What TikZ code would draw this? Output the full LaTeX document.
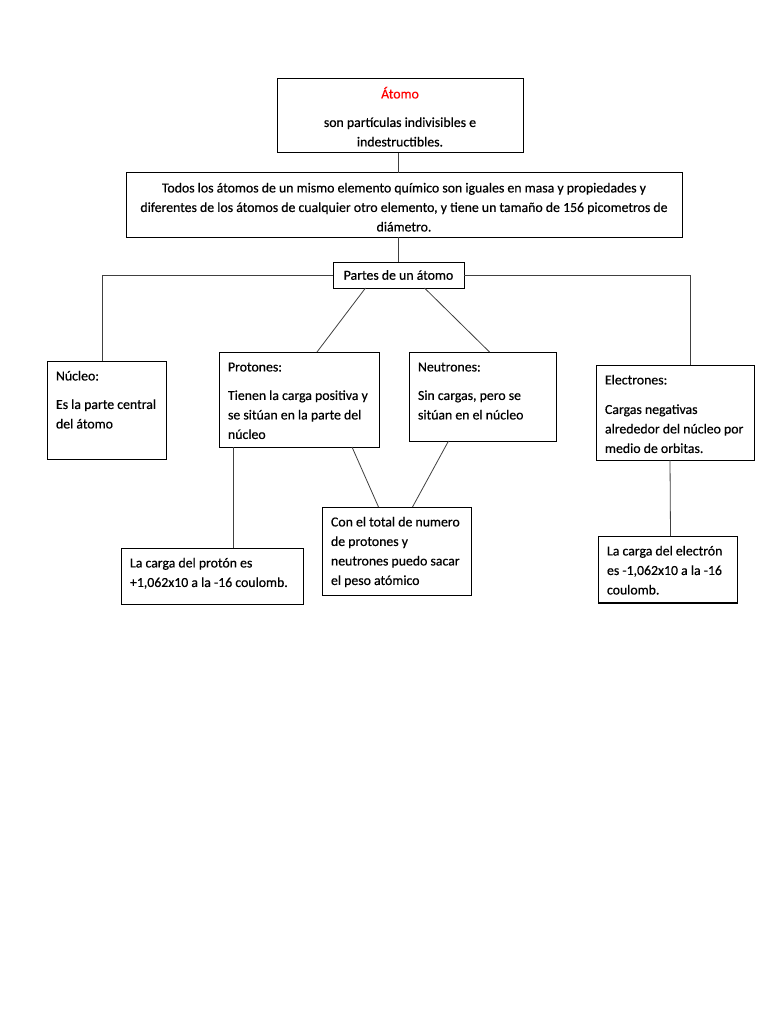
\documentclass[tikz,border=0pt]{standalone}
\usepackage{fontspec}
\setmainfont{Carlito}[FakeBold=0.5]
\usetikzlibrary{positioning}
\tikzstyle{every node}=[font=\fontsize{13.8}{19.5}\selectfont]
\tikzset{CajaStyle/.style = {
			      shape          = rectangle,
			      draw           = black,
			      line width     = 1pt,
			      anchor         = north west,
			      inner sep      = 0pt,
			      outer sep      = 0pt},
			LineaStyle/.style = {
			      draw           = black!75,
			      line width     = 0.8pt}
			}
% caja con texto arriba: ancho, alto, texto
\newcommand{\Caja}[3]{\begin{minipage}[t][#2pt][t]{#1pt}\vspace*{5.8pt}\raggedright\leftskip=9pt\relax\strut#3\end{minipage}}
\newcommand{\CajaC}[3]{\begin{minipage}[t][#2pt][t]{#1pt}\vspace*{5.8pt}\centering\strut#3\end{minipage}}

\begin{document}
\begin{tikzpicture}[x=1pt,y=-1pt]
							\useasboundingbox[fill=white] (0,0) rectangle (768,1024);

							\draw (277,79) node[CajaStyle] (atomo) {\CajaC{246}{74}{\textcolor{red}{Átomo}\\[9pt] son partículas indivisibles e\\ indestructibles.}};
							\draw (126,173) node[CajaStyle] (todos) {\CajaC{556}{64}{Todos los átomos de un mismo elemento químico son iguales en masa y propiedades y\\ diferentes de los átomos de cualquier otro elemento, y tiene un tamaño de 156 picometros de\\ diámetro.}};
							\draw (333,262) node[CajaStyle, minimum width=131pt, minimum height=26pt] (partes) {Partes de un átomo};

							\draw (47,361) node[CajaStyle] (nucleo) {\Caja{119}{98}{Núcleo:\\[9pt] Es la parte central\\ del átomo}};
							\draw (219,352) node[CajaStyle] (prot) {\Caja{160}{95}{Protones:\\[9pt] Tienen la carga positiva y\\ se sitúan en la parte del\\ núcleo}};
							\draw (409,352) node[CajaStyle] (neut) {\Caja{147}{89}{Neutrones:\\[9pt] Sin cargas, pero se\\ sitúan en el núcleo}};
							\draw (596,365) node[CajaStyle] (elec) {\Caja{158}{95}{Electrones:\\[10pt] Cargas negativas\\ alrededor del núcleo por\\ medio de orbitas.}};

							\draw (121,548) node[CajaStyle] (cargaP) {\Caja{182}{56}{La carga del protón es\\ +1,062x10 a la -16 coulomb.}};
							\draw (322,507) node[CajaStyle] (total) {\Caja{149}{88}{Con el total de numero\\ de protones y\\ neutrones puedo sacar\\ el peso atómico}};
							\draw (598,536) node[CajaStyle] (cargaE) {\Caja{139}{67}{La carga del electrón\\ es -1,062x10 a la -16\\ coulomb.}};
							\draw[line width=2pt] (cargaE.south west) -- (cargaE.south east);

							\draw[LineaStyle]    ([xshift=-2pt]atomo.south) -- ([xshift=-2pt]atomo.south |- todos.north);
							\draw[LineaStyle]    (todos.south -| partes.north) -- (partes.north);

							\draw[LineaStyle]    (partes.west) -| ([xshift=-4pt]nucleo.north);
							\draw[LineaStyle]    (partes.east) -| ([xshift=15pt]elec.north);
							\draw[LineaStyle]    ([xshift=-33pt]partes.south) -- ([xshift=18pt]prot.north);
							\draw[LineaStyle]    ([xshift=26pt]partes.south) -- ([xshift=7pt]neut.north);

							\draw[LineaStyle]    ([xshift=-66pt]prot.south) -- ([xshift=-66pt]prot.south |- cargaP.north);
							\draw[LineaStyle]    ([xshift=53pt]prot.south) -- ([xshift=-18pt]total.north);
							\draw[LineaStyle]    ([xshift=-34pt]neut.south) -- ([xshift=16pt]total.north);
							\draw[LineaStyle]    ([xshift=-5pt]elec.south) -- ([xshift=3pt]cargaE.north);

					\end{tikzpicture}
\end{document}
